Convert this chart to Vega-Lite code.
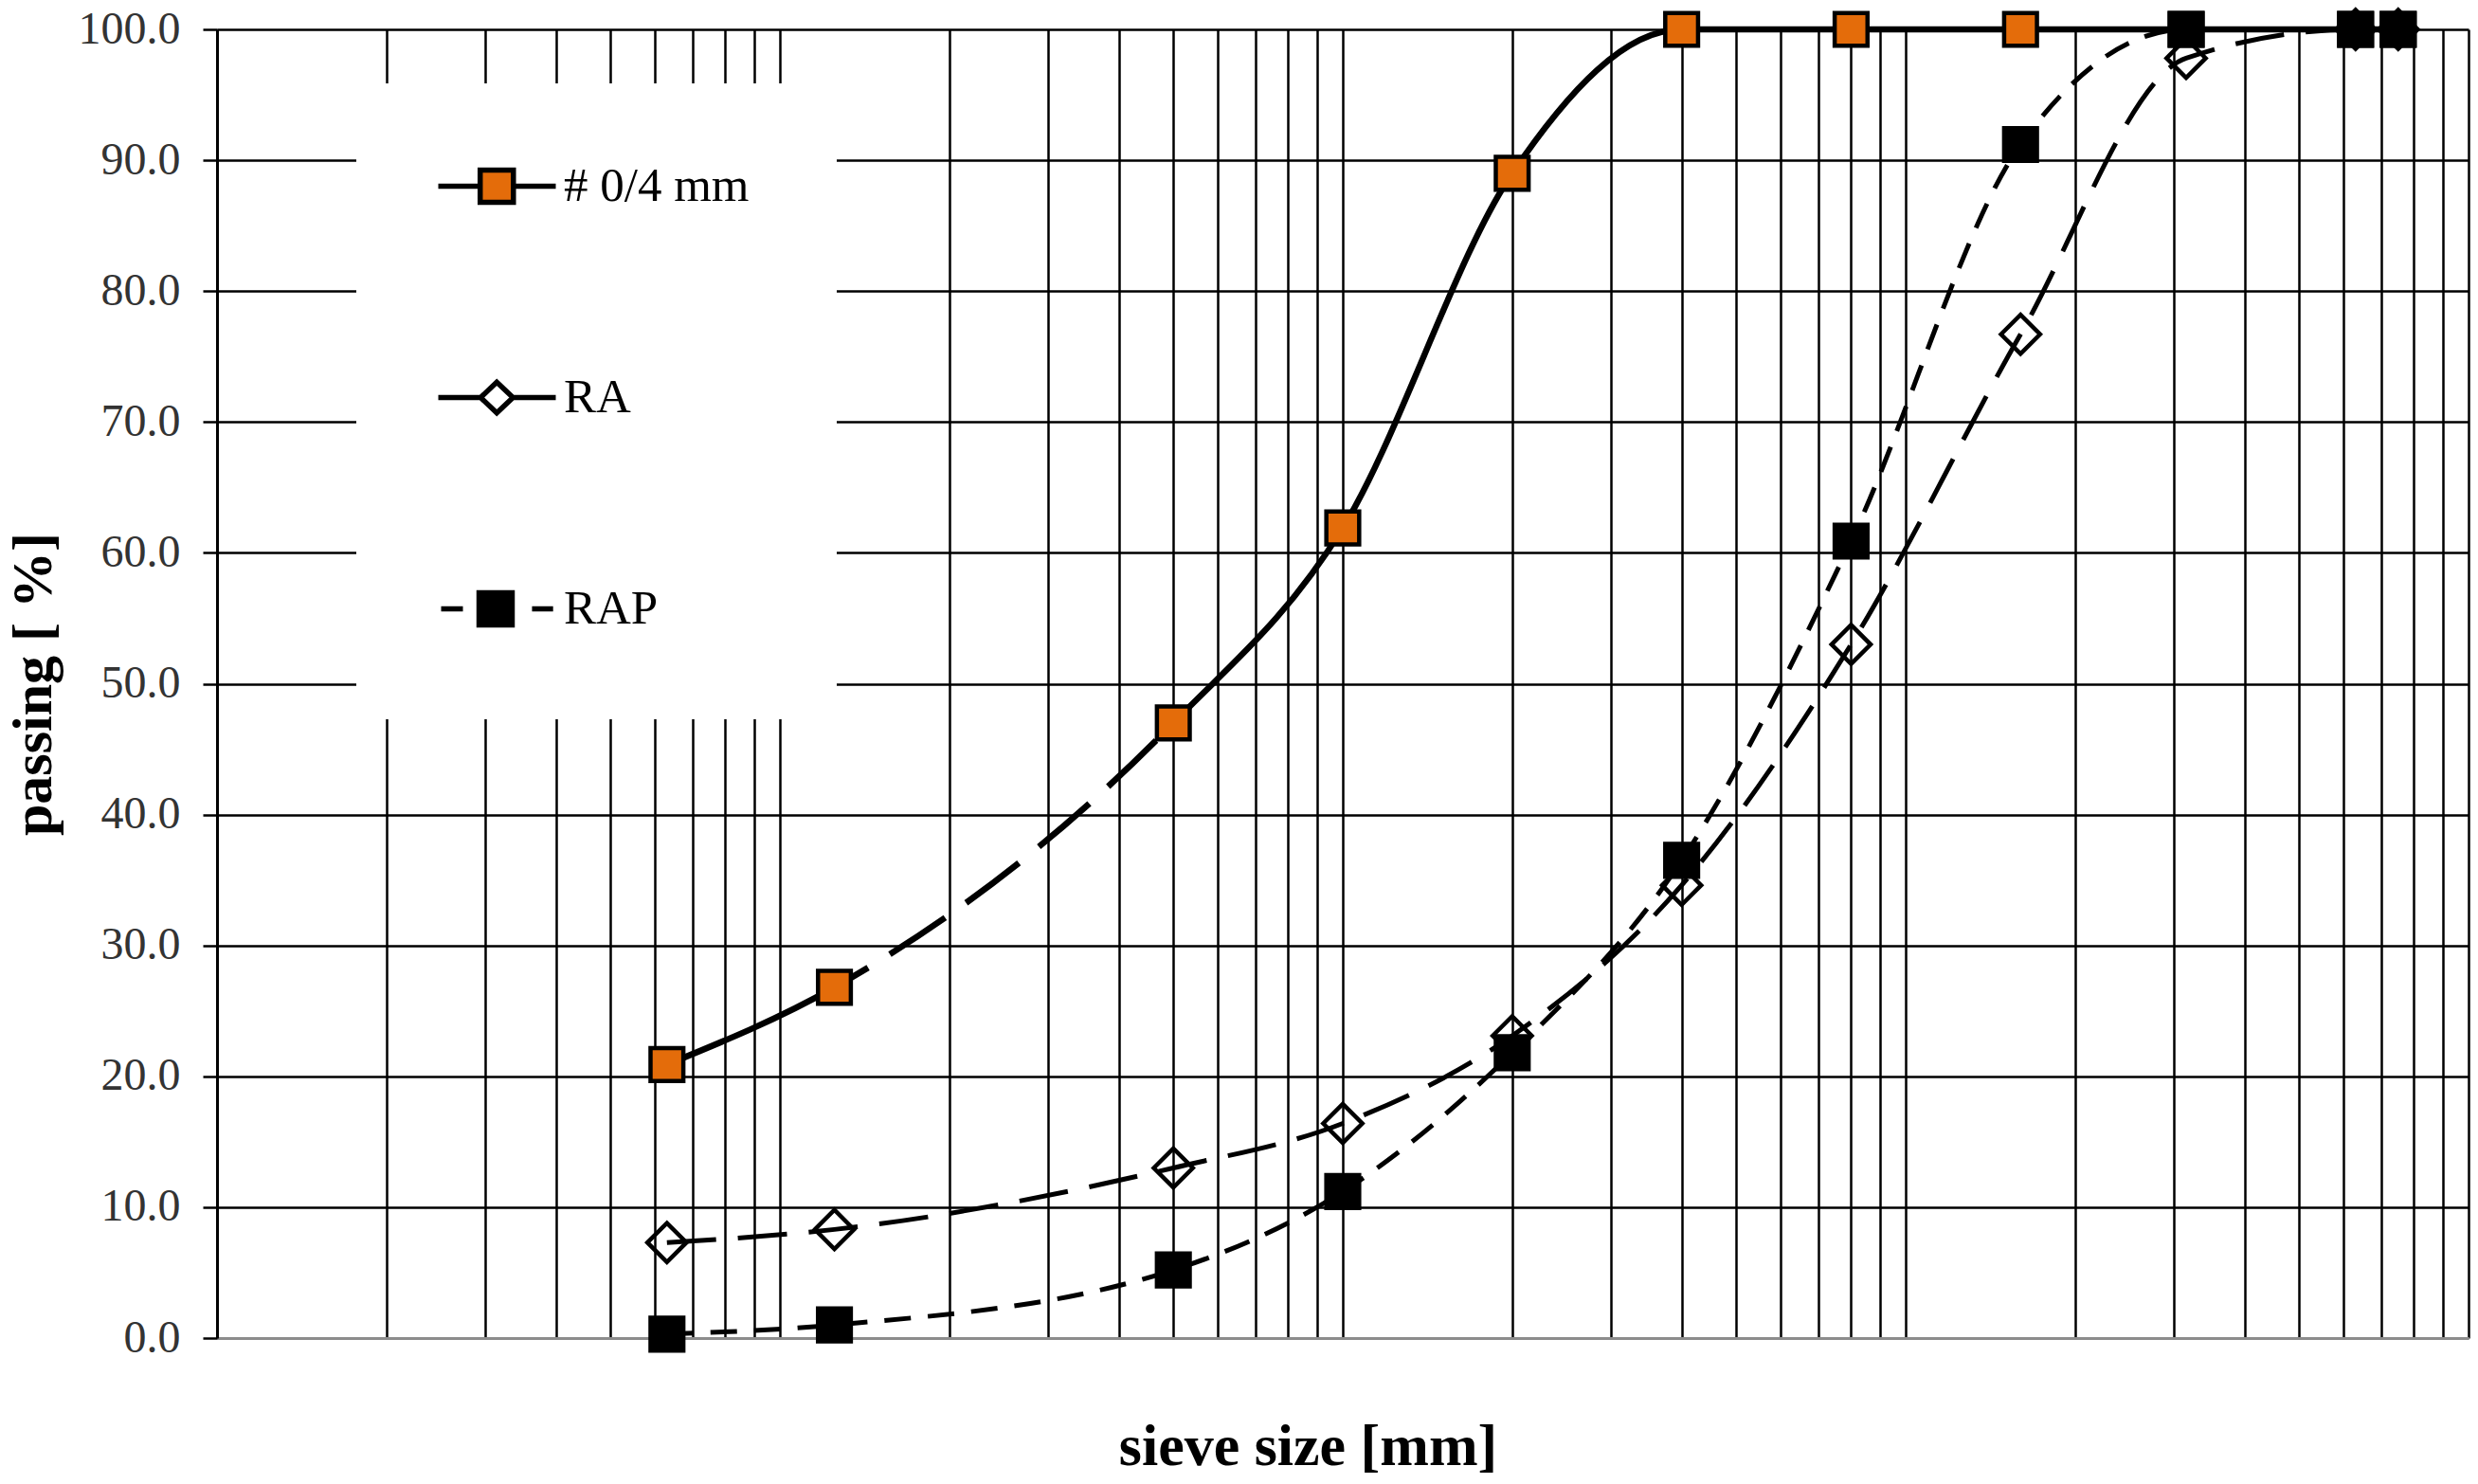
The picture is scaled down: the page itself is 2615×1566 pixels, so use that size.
{
  "$schema": "https://vega.github.io/schema/vega-lite/v6.json",
  "width": 2376,
  "height": 1381,
  "autosize": {"type": "none"},
  "padding": {"left": 229, "top": 31, "right": 10, "bottom": 154},
  "background": "white",
  "config": {"view": {"stroke": null}, "font": "Liberation Serif"},
  "data": {
    "values": [
      {"series": "# 0/4 mm", "size": 0.063, "passing": 20.9},
      {"series": "# 0/4 mm", "size": 0.125, "passing": 26.8},
      {"series": "# 0/4 mm", "size": 0.5, "passing": 47.0},
      {"series": "# 0/4 mm", "size": 1, "passing": 61.9},
      {"series": "# 0/4 mm", "size": 2, "passing": 89.0},
      {"series": "# 0/4 mm", "size": 4, "passing": 100},
      {"series": "# 0/4 mm", "size": 8, "passing": 100},
      {"series": "# 0/4 mm", "size": 16, "passing": 100},
      {"series": "# 0/4 mm", "size": 31.5, "passing": 100},
      {"series": "# 0/4 mm", "size": 63, "passing": 100},
      {"series": "# 0/4 mm", "size": 75, "passing": 100},
      {"series": "RA", "size": 0.063, "passing": 7.3},
      {"series": "RA", "size": 0.125, "passing": 8.3},
      {"series": "RA", "size": 0.5, "passing": 13.0},
      {"series": "RA", "size": 1, "passing": 16.4},
      {"series": "RA", "size": 2, "passing": 23.1},
      {"series": "RA", "size": 4, "passing": 34.6},
      {"series": "RA", "size": 8, "passing": 53.0},
      {"series": "RA", "size": 16, "passing": 76.7},
      {"series": "RA", "size": 31.5, "passing": 97.8},
      {"series": "RA", "size": 63, "passing": 100},
      {"series": "RA", "size": 75, "passing": 100},
      {"series": "RAP", "size": 0.063, "passing": 0.3},
      {"series": "RAP", "size": 0.125, "passing": 1.0},
      {"series": "RAP", "size": 0.5, "passing": 5.2},
      {"series": "RAP", "size": 1, "passing": 11.2},
      {"series": "RAP", "size": 2, "passing": 21.8},
      {"series": "RAP", "size": 4, "passing": 36.5},
      {"series": "RAP", "size": 8, "passing": 60.9},
      {"series": "RAP", "size": 16, "passing": 91.2},
      {"series": "RAP", "size": 31.5, "passing": 100},
      {"series": "RAP", "size": 63, "passing": 100},
      {"series": "RAP", "size": 75, "passing": 100}
    ]
  },
  "encoding": {
    "x": {
      "field": "size",
      "type": "quantitative",
      "scale": {"type": "log", "domain": [0.01, 100], "nice": false},
      "axis": {
        "values": [0.01, 0.02, 0.03, 0.04, 0.05, 0.06, 0.07, 0.08, 0.09, 0.1, 0.2, 0.3, 0.4, 0.5, 0.6, 0.7, 0.8, 0.9, 1, 2, 3, 4, 5, 6, 7, 8, 9, 10, 20, 30, 40, 50, 60, 70, 80, 90, 100],
        "labels": false,
        "ticks": false,
        "grid": true,
        "gridColor": "black",
        "gridWidth": 2.5,
        "gridOpacity": 1,
        "domainColor": "#8c8c8c",
        "domainWidth": 3,
        "title": "sieve size [mm]",
        "titleFont": "Liberation Serif",
        "titleFontSize": 62,
        "titleFontWeight": "bold",
        "titleColor": "black",
        "titlePadding": 84,
        "titleX": 1151
      }
    },
    "y": {
      "field": "passing",
      "type": "quantitative",
      "scale": {"domain": [0, 100], "nice": false},
      "axis": {
        "values": [0, 10, 20, 30, 40, 50, 60, 70, 80, 90, 100],
        "format": ".1f",
        "grid": true,
        "gridColor": {"condition": {"test": "datum.value === 0", "value": "#8c8c8c"}, "value": "black"},
        "gridWidth": 2.5,
        "gridOpacity": 1,
        "domainColor": "black",
        "domainWidth": 3,
        "tickColor": "black",
        "tickWidth": 2.5,
        "tickSize": 15,
        "labelFont": "Liberation Serif",
        "labelFontSize": 48,
        "labelColor": "#333333",
        "labelPadding": 24,
        "title": "passing [ %]",
        "titleFont": "Liberation Serif",
        "titleFontSize": 60,
        "titleFontWeight": "bold",
        "titleColor": "black",
        "titlePadding": 16
      }
    }
  },
  "layer": [
    {
      "transform": [{"filter": "datum.series === '# 0/4 mm'"}],
      "mark": {"type": "line", "color": "black", "strokeWidth": 6.5, "strokeDash": [196, 0, 40, 27, 70, 27, 70, 27, 70, 27, 70, 27, 100000, 0], "interpolate": "monotone"},
      "encoding": {}
    },
    {
      "transform": [{"filter": "datum.series === 'RA'"}],
      "mark": {"type": "line", "color": "black", "strokeWidth": 5, "strokeDash": [52, 23], "interpolate": "monotone"},
      "encoding": {}
    },
    {
      "transform": [{"filter": "datum.series === 'RAP'"}],
      "mark": {"type": "line", "color": "black", "strokeWidth": 5, "strokeDash": [28, 18], "interpolate": "monotone"},
      "encoding": {}
    },
    {
      "transform": [{"filter": "datum.series !== 'RA'"}],
      "mark": {"type": "point", "shape": "square", "filled": true, "size": 1200, "stroke": "black", "strokeWidth": 4.5, "opacity": 1},
      "encoding": {
        "fill": {
          "field": "series",
          "type": "nominal",
          "scale": {"domain": ["# 0/4 mm", "RA", "RAP"], "range": ["#E46C0A", "transparent", "black"]},
          "legend": {
            "title": null,
            "orient": "none",
            "legendX": 147,
            "legendY": 57,
            "fillColor": "white",
            "padding": 20,
            "rowPadding": 30,
            "symbolSize": 29241,
            "symbolStrokeWidth": 5.5,
            "symbolStrokeColor": "black",
            "symbolType": {"expr": "datum.value === 'RA' ? 'M-1,-1M1,1M4.29,0M-0.257,0H0.265M0.665,0H1.193M0.265,0L0.465,-0.19L0.665,0L0.465,0.19Z' : (datum.value === 'RAP' ? 'M-1,-1M1,1M4.29,0M-0.222,0H0.047M0.9,0H1.16M0.246,-0.2H0.655V0.2H0.246Z' : 'M-1,-1M1,1M4.29,0M-0.257,0H0.26M0.67,0H1.193M0.26,-0.2H0.67V0.2H0.26Z')"},
            "labelOffset": 22,
            "labelLimit": 500,
            "labelFont": "Liberation Serif",
            "labelFontSize": 51,
            "labelColor": "black"
          }
        }
      }
    },
    {
      "transform": [{"filter": "datum.series === 'RA'"}],
      "mark": {"type": "point", "shape": "diamond", "filled": true, "size": 1700, "stroke": "black", "strokeWidth": 4.5, "opacity": 1},
      "encoding": {
        "fill": {"field": "series", "type": "nominal", "legend": null}
      }
    }
  ]
}
